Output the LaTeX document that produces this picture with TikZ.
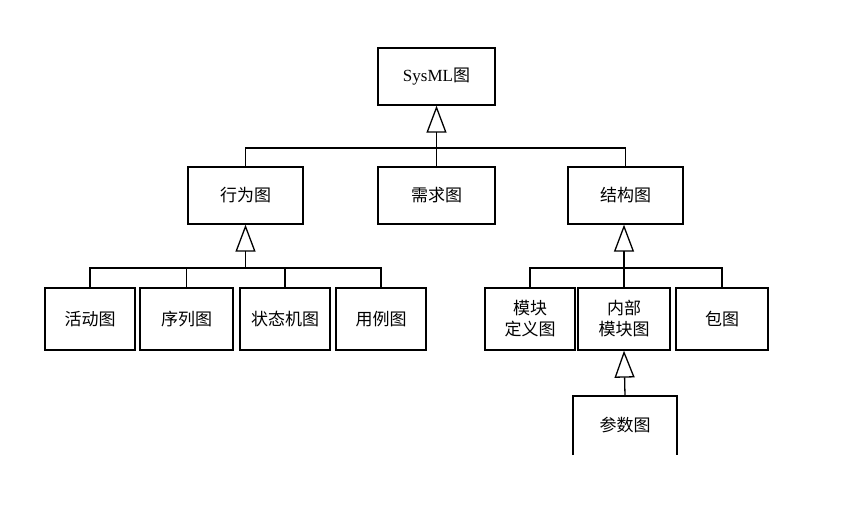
\documentclass[tikz,border=0pt]{standalone}
\usepackage{fontspec}
\setmainfont{Liberation Serif}
\newfontfamily\cjk{Noto Sans CJK SC}
\usetikzlibrary{arrows.meta}
\begin{document}
\begin{tikzpicture}[x=1pt,y=-1pt,
  box/.style={draw,line width=1.3pt,inner sep=0pt,font=\cjk\fontsize{17}{21}\selectfont,align=center},
  ln/.style={line width=1.3pt},
  gen/.style={line width=1.3pt,-{Triangle[open,width=20pt,length=27pt,line width=1.3pt]}}]
\useasboundingbox (0,0) rectangle (848,506);
\node[box,minimum width=117pt,minimum height=57pt] (sys) at (436.5,76.5) {{\rmfamily SysML}图};
\node[box,minimum width=115pt,minimum height=57pt] (beh) at (245.5,195.5) {行为图};
\node[box,minimum width=117pt,minimum height=57pt] (req) at (436.5,195.5) {需求图};
\node[box,minimum width=115pt,minimum height=57pt] (str) at (625.5,195.5) {结构图};
\foreach \n/\x/\w/\t in {act/90/90/活动图,seq/186.5/93/序列图,stm/285/90/状态机图,uc/381/90/用例图,bdd/530/90/{模块\\定义图},ibd/624/92/{内部\\模块图},pkg/722/92/包图}
  \node[box,minimum width=\w pt,minimum height=62pt] (\n) at (\x,319) {\t};
\node[font=\cjk\fontsize{17}{21}\selectfont] (par) at (625,425.5) {参数图};
\draw[ln] (573,455) -- (573,396) -- (677,396) -- (677,455);
\coordinate (parTop) at (625,396);
% top level
\draw[gen] (req.north) -- (sys.south);
\draw[ln] (beh.north) |- (436.5,148) -| (str.north);
% behaviour
\draw[gen] (245.5,268) -- (beh.south);
\draw[ln] (act.north) |- (uc.north |- 0,268) -- (uc.north);
\draw[ln] (seq.north) -- (seq.north |- 0,268);
\draw[ln] (stm.north) -- (stm.north |- 0,268);
% structure
\draw[gen] (ibd.north) -- (ibd.north |- str.south);
\draw[ln] (bdd.north) |- (pkg.north |- 0,268) -- (pkg.north);
% parametric
\draw[gen] (parTop) -- (ibd.south);
\end{tikzpicture}
\end{document}
